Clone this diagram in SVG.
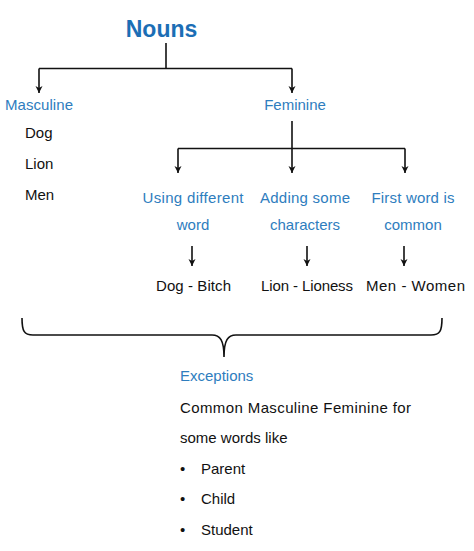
<svg xmlns="http://www.w3.org/2000/svg" width="474" height="551" viewBox="0 0 474 551">
<style>
text{font-family:"Liberation Sans",Arial,sans-serif;font-size:15px}
.b{fill:#2E7DBE}
.k{fill:#111}
.t{fill:#1B6EB5;font-weight:bold;font-size:23px}
.ln{fill:none;stroke:#111;stroke-width:1.6}
</style>
<defs>
<marker id="ah" markerWidth="8" markerHeight="8" refX="7" refY="4" orient="auto" markerUnits="userSpaceOnUse">
<path d="M0,0.5 L7,4 L0,7.5 L2,4 Z" fill="#111"/>
</marker>
</defs>
<g id="connectors">
<path class="ln" d="M166,43 V68.5"/>
<path class="ln" d="M39,68.5 H292"/>
<path class="ln" d="M39,68.5 V93" marker-end="url(#ah)"/>
<path class="ln" d="M292,68.5 V93" marker-end="url(#ah)"/>
<path class="ln" d="M292,121 V173" marker-end="url(#ah)"/>
<path class="ln" d="M178,148.5 H405"/>
<path class="ln" d="M178,148.5 V173" marker-end="url(#ah)"/>
<path class="ln" d="M405,148.5 V173" marker-end="url(#ah)"/>
<path class="ln" d="M192,246 V266" marker-end="url(#ah)"/>
<path class="ln" d="M307,246 V266" marker-end="url(#ah)"/>
<path class="ln" d="M404,246 V266" marker-end="url(#ah)"/>
<path class="ln" d="M22,318 C22,331 24,335 33,335 L212,335 C220,335 224,340 224,357 C224,340 228,335 236,335 L431,335 C440,335 442,331 442,318"/>
</g>
<g id="nouns"><text class="t" x="161.5" y="37" text-anchor="middle">Nouns</text></g>
<g id="masculine">
<text class="b" x="39" y="110" text-anchor="middle" textLength="68">Masculine</text>
<text class="k" x="25" y="138">Dog</text>
<text class="k" x="25" y="169">Lion</text>
<text class="k" x="25" y="200">Men</text>
</g>
<g id="feminine"><text class="b" x="295" y="110" text-anchor="middle">Feminine</text></g>
<g id="using-different-word">
<text class="b" x="193" y="203" text-anchor="middle" textLength="101">Using different</text>
<text class="b" x="193" y="230" text-anchor="middle">word</text>
</g>
<g id="adding-some-characters">
<text class="b" x="305" y="203" text-anchor="middle" textLength="90">Adding some</text>
<text class="b" x="305" y="230" text-anchor="middle">characters</text>
</g>
<g id="first-word-common">
<text class="b" x="413" y="203" text-anchor="middle" textLength="83">First word is</text>
<text class="b" x="413" y="230" text-anchor="middle">common</text>
</g>
<g id="dog-bitch"><text class="k" x="193.5" y="291" text-anchor="middle" textLength="75">Dog - Bitch</text></g>
<g id="lion-lioness"><text class="k" x="307" y="291" text-anchor="middle" textLength="92">Lion - Lioness</text></g>
<g id="men-women"><text class="k" x="415.5" y="291" text-anchor="middle" textLength="99">Men - Women</text></g>
<g id="exceptions">
<text class="b" x="180" y="381">Exceptions</text>
<text class="k" x="180" y="413" textLength="231">Common Masculine Feminine for</text>
<text class="k" x="180" y="443">some words like</text>
<text class="k" x="180" y="474">•</text><text class="k" x="201" y="474">Parent</text>
<text class="k" x="180" y="504">•</text><text class="k" x="201" y="504">Child</text>
<text class="k" x="180" y="535">•</text><text class="k" x="201" y="535">Student</text>
</g>
</svg>
